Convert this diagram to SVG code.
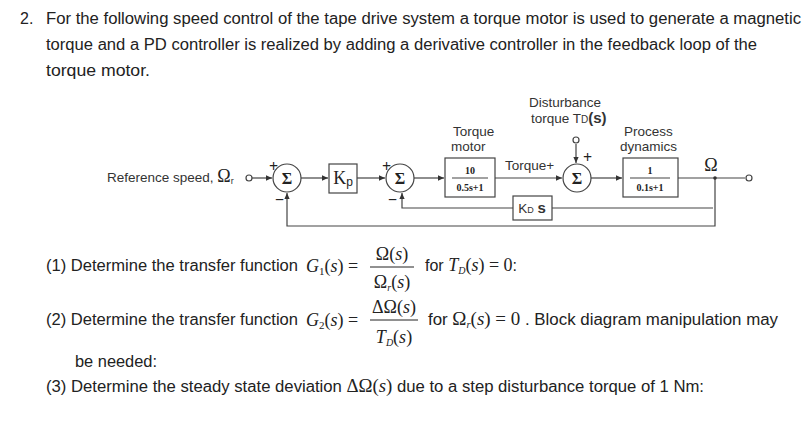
<svg xmlns="http://www.w3.org/2000/svg" width="811" height="422" viewBox="0 0 811 422">
<style>
.t{font-family:"Liberation Sans",Arial,sans-serif;font-size:16px;fill:#222}
.m{font-family:"Liberation Serif","Times New Roman",serif;font-size:18px;fill:#222;font-style:italic}
.mu{font-family:"Liberation Serif","Times New Roman",serif;font-size:18px;fill:#222}
.s{font-family:"Liberation Sans",Arial,sans-serif;font-size:13.5px;fill:#333}
.b{font-family:"Liberation Serif",serif;font-size:10px;font-weight:bold;fill:#222}
.sg{font-family:"Liberation Serif",serif;font-size:16px;font-weight:bold;fill:#222}
.ln{stroke:#444;stroke-width:1.2;fill:none}
.bx{stroke:#444;stroke-width:1.2;fill:#fff}
</style>
<defs><marker id="a" markerWidth="6" markerHeight="6" refX="5" refY="3" orient="auto"><path d="M0,0.8L5,3L0,5.2z" fill="#333"/></marker></defs>
<text class="t" x="20" y="24">2.</text>
<text class="t" x="46" y="24" textLength="755" lengthAdjust="spacingAndGlyphs">For the following speed control of the tape drive system a torque motor is used to generate a magnetic</text>
<text class="t" x="46" y="50" textLength="711" lengthAdjust="spacingAndGlyphs">torque and a PD controller is realized by adding a derivative controller in the feedback loop of the</text>
<text class="t" x="46" y="76" textLength="104" lengthAdjust="spacingAndGlyphs">torque motor.</text>
<g id="connectors" class="ln">
<path d="M252,178H272" marker-end="url(#a)"/>
<path d="M301,178H328" marker-end="url(#a)"/>
<path d="M357,178H385" marker-end="url(#a)"/>
<path d="M414,178H444" marker-end="url(#a)"/>
<path d="M495,178H562" marker-end="url(#a)"/>
<path d="M576,144V163" marker-end="url(#a)"/>
<path d="M591,178H622" marker-end="url(#a)"/>
<path d="M678,178H745"/>
<path d="M715,178V226H287V193" marker-end="url(#a)"/>
<path d="M713,208H552M513,208H402V193" marker-end="url(#a)"/>
</g>
<circle cx="715" cy="178" r="1.8" fill="#333"/>
<g id="input"><text class="s" x="107" y="182" font-size="14">Reference speed, <tspan class="mu" font-size="15">Ω</tspan><tspan font-size="9" dy="2">r</tspan></text><circle cx="249" cy="178" r="3" class="bx"/></g>
<g id="sum1"><circle cx="287" cy="178" r="14" class="bx"/><text class="sg" x="287" y="184" text-anchor="middle">Σ</text><text class="sg" x="269" y="172">+</text><text class="sg" x="275" y="205">−</text></g>
<g id="kp"><rect x="329" y="164" width="28" height="29" class="bx"/><text class="mu" x="343" y="184" text-anchor="middle" font-size="15">K<tspan font-size="12" dy="2" font-family="Liberation Sans">p</tspan></text></g>
<g id="sum2"><circle cx="400" cy="178" r="14" class="bx"/><text class="sg" x="400" y="184" text-anchor="middle">Σ</text><text class="sg" x="382" y="172">+</text><text class="sg" x="388" y="205">−</text></g>
<g id="motor"><rect x="445" y="158" width="50" height="39" class="bx"/><text class="b" x="470" y="174" text-anchor="middle">10</text><path d="M452,178H488" class="ln"/><text class="b" x="470" y="191" text-anchor="middle">0.5s+1</text><text class="s" x="453" y="136">Torque</text><text class="s" x="451" y="151">motor</text></g>
<text class="s" x="505" y="170" font-size="14">Torque+</text>
<g id="dist"><circle cx="576" cy="140" r="3" class="bx"/><text class="s" x="529" y="107">Disturbance</text><text class="s" x="531" y="123">torque T<tspan font-size="10">D</tspan><tspan font-size="15" font-weight="bold">(s)</tspan></text><text class="sg" x="583" y="163">+</text></g>
<g id="sum3"><circle cx="577" cy="178" r="14" class="bx"/><text class="sg" x="577" y="184" text-anchor="middle">Σ</text></g>
<g id="process"><rect x="623" y="158" width="55" height="39" class="bx"/><text class="b" x="650" y="174" text-anchor="middle">1</text><path d="M630,178H670" class="ln"/><text class="b" x="650" y="191" text-anchor="middle">0.1s+1</text><text class="s" x="624" y="136">Process</text><text class="s" x="620" y="151">dynamics</text></g>
<g id="kd"><rect x="513" y="196" width="39" height="24" class="bx"/><text class="s" x="532" y="213" text-anchor="middle">K<tspan font-size="9">D</tspan> <tspan font-size="15" font-weight="bold">s</tspan></text></g>
<g id="output"><text class="mu" x="711" y="171" font-size="15" text-anchor="middle">Ω</text><circle cx="749" cy="178" r="3" class="bx"/></g>
<text class="t" x="46" y="271" textLength="252" lengthAdjust="spacingAndGlyphs">(1)  Determine the transfer function</text>
<text class="m" x="306" y="272">G<tspan font-size="11" dy="3" font-style="normal">1</tspan><tspan dy="-3" font-style="normal">(</tspan>s<tspan font-style="normal">) =</tspan></text>
<text class="mu" x="392" y="260" text-anchor="middle">Ω(<tspan font-style="italic">s</tspan>)</text>
<path d="M370,267H414" stroke="#222" stroke-width="1"/>
<text class="mu" x="392" y="288" text-anchor="middle">Ω<tspan font-size="10" dy="3" font-style="italic">r</tspan><tspan dy="-3">(</tspan><tspan font-style="italic">s</tspan>)</text>
<text class="t" x="425" y="271">for <tspan class="m">T<tspan font-size="10" dy="3">D</tspan><tspan dy="-3" font-style="normal">(</tspan>s<tspan font-style="normal">) = 0</tspan></tspan>:</text>
<text class="t" x="46" y="325" textLength="252" lengthAdjust="spacingAndGlyphs">(2)  Determine the transfer function</text>
<text class="m" x="306" y="326">G<tspan font-size="11" dy="3" font-style="normal">2</tspan><tspan dy="-3" font-style="normal">(</tspan>s<tspan font-style="normal">) =</tspan></text>
<text class="mu" x="394" y="313" text-anchor="middle">ΔΩ(<tspan font-style="italic">s</tspan>)</text>
<path d="M370,320H418" stroke="#222" stroke-width="1"/>
<text class="m" x="394" y="343" text-anchor="middle">T<tspan font-size="10" dy="3">D</tspan><tspan dy="-3" font-style="normal">(</tspan>s<tspan font-style="normal">)</tspan></text>
<text class="t" x="428" y="325" textLength="350" lengthAdjust="spacingAndGlyphs">for <tspan class="mu">Ω<tspan font-size="10" dy="3" font-style="italic">r</tspan><tspan dy="-3">(</tspan><tspan font-style="italic">s</tspan>) = 0</tspan>  . Block diagram manipulation may</text>
<text class="t" x="75" y="367" textLength="82" lengthAdjust="spacingAndGlyphs">be needed:</text>
<text class="t" x="46" y="392" textLength="658" lengthAdjust="spacingAndGlyphs">(3)  Determine the steady state deviation <tspan class="mu">ΔΩ(<tspan font-style="italic">s</tspan>)</tspan> due to a step disturbance torque of 1 Nm:</text>
</svg>
